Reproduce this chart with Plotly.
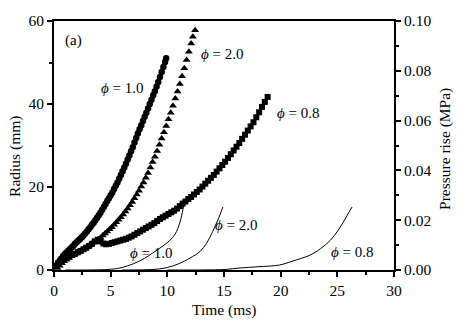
import plotly.graph_objects as go

# ---- data: flame radius (mm) vs time (ms) ----
t_phi10 = [0.2,0.35,0.5,0.65,0.8,0.95,1.1,1.25,1.4,1.55,1.7,1.85,2.0,2.15,2.3,2.45,2.6,2.75,2.9,3.05,
           3.2,3.35,3.5,3.65,3.8,3.95,4.1,4.25,4.4,4.55,4.7,4.85,5.0,5.15,5.3,5.45,5.6,5.75,5.9,6.05,
           6.2,6.35,6.5,6.65,6.8,6.95,7.1,7.25,7.4,7.55,7.7,7.85,8.0,8.15,8.3,8.45,8.6,8.75,8.9,9.05,
           9.2,9.35,9.5,9.65,9.8,9.9]
r_phi10 = [1.0,1.6,2.2,2.8,3.4,3.8,4.2,4.6,5.0,5.4,5.8,6.3,6.7,7.1,7.5,7.9,8.3,8.8,9.3,9.8,
           10.3,10.9,11.4,12.0,12.6,13.2,13.8,14.5,15.2,15.9,16.6,17.3,18.0,18.7,19.5,20.3,21.1,22.0,22.9,23.8,
           24.7,25.6,26.6,27.6,28.6,29.6,30.7,31.8,32.9,33.9,34.9,35.9,36.9,37.9,38.9,40.0,41.0,42.1,43.1,44.2,
           45.3,46.5,47.7,48.9,50.1,51.0]

t_phi20 = [0.3,0.5,0.7,0.9,1.1,1.3,1.5,1.7,1.9,2.1,2.3,2.5,2.7,2.9,3.1,3.3,3.5,3.7,3.9,4.1,
           4.3,4.5,4.7,4.9,5.1,5.3,5.5,5.7,5.9,6.1,6.3,6.5,6.7,6.9,7.1,7.3,7.5,7.7,7.9,8.1,
           8.3,8.5,8.7,8.9,9.1,9.3,9.5,9.7,9.9,10.1,10.3,10.5,10.7,10.9,11.1,11.3,11.5,11.7,11.9,12.1,
           12.25,12.45]
r_phi20 = [0.5,1.0,1.6,2.1,2.5,2.9,3.3,3.6,3.9,4.2,4.5,4.8,5.1,5.5,5.9,6.3,6.6,7.0,7.4,7.8,
           8.3,8.8,9.3,9.8,10.3,10.9,11.5,12.1,12.7,13.4,14.1,14.8,15.6,16.4,17.3,18.2,19.1,20.1,21.1,22.2,
           23.4,24.7,26.0,27.3,28.7,30.2,31.7,33.2,34.7,36.3,37.9,39.6,41.3,43.0,44.8,46.7,48.6,50.6,52.6,54.6,
           56.2,57.8]

t_phi08 = [0.1,0.35,0.6,0.85,1.1,1.35,1.6,1.85,2.1,2.35,2.6,2.85,3.1,3.35,3.6,3.85,4.1,4.35,4.6,4.85,
           5.1,5.35,5.6,5.85,6.1,6.35,6.6,6.85,7.1,7.35,7.6,7.85,8.1,8.35,8.6,8.85,9.1,9.35,9.6,9.85,
           10.1,10.35,10.6,10.85,11.1,11.35,11.6,11.85,12.1,12.35,12.6,12.85,13.1,13.35,13.6,13.85,14.1,14.35,14.6,14.85,
           15.1,15.35,15.6,15.85,16.1,16.35,16.6,16.85,17.1,17.35,17.6,17.85,18.1,18.35,18.6,18.85]
r_phi08 = [1.0,1.6,2.2,2.6,3.0,3.3,3.6,3.9,4.3,4.6,5.0,5.4,5.8,6.3,6.9,7.3,6.9,6.4,6.2,6.3,
           6.5,6.7,6.9,7.1,7.3,7.5,7.8,8.1,8.5,8.9,9.3,9.7,10.1,10.5,10.9,11.3,11.8,12.3,12.7,13.1,
           13.5,13.9,14.3,14.8,15.4,16.0,16.5,17.1,17.6,18.2,18.8,19.4,20.1,20.8,21.5,22.2,22.9,23.7,24.5,25.3,
           26.1,27.0,27.9,28.8,29.7,30.6,31.6,32.6,33.6,34.6,35.6,36.8,38.0,39.3,40.5,41.7]

# ---- data: pressure rise (MPa) vs time (ms) ----
tp_phi10 = [1.0,3.0,5.0,6.0,7.0,8.0,8.7,9.5,10.2,10.7,11.1,11.45]
p_phi10 = [0.0,0.0,0.0003,0.001,0.0025,0.0047,0.0068,0.0093,0.0118,0.0145,0.019,0.026]
tp_phi20 = [6.0,9.0,10.0,11.0,12.0,12.9,13.5,14.0,14.5,14.9]
p_phi20 = [0.0,0.0003,0.001,0.0025,0.0048,0.0075,0.011,0.0155,0.0205,0.0253]
tp_phi08 = [10.0,15.0,16.4,18.0,19.9,21.0,22.6,23.5,24.4,25.0,25.5,26.0,26.3]
p_phi08 = [0.0,0.0002,0.0008,0.0013,0.002,0.0035,0.006,0.0085,0.012,0.0155,0.019,0.023,0.0253]

x_ticks = [0, 5, 10, 15, 20, 25, 30]
y_ticks = [0, 20, 40, 60]
y2_ticks = [0.0, 0.02, 0.04, 0.06, 0.08, 0.10]

FONT = "Liberation Serif"

fig = go.Figure()
fig.add_trace(go.Scatter(x=t_phi10, y=r_phi10, mode="markers",
                         marker=dict(symbol="circle", size=6.5, color="black"), showlegend=False))
fig.add_trace(go.Scatter(x=t_phi20, y=r_phi20, mode="markers",
                         marker=dict(symbol="triangle-up", size=7, color="black"), showlegend=False))
fig.add_trace(go.Scatter(x=t_phi08, y=r_phi08, mode="markers",
                         marker=dict(symbol="square", size=6, color="black"), showlegend=False))
for tt, pp in [(tp_phi10, p_phi10), (tp_phi20, p_phi20), (tp_phi08, p_phi08)]:
    fig.add_trace(go.Scatter(x=tt, y=pp, mode="lines", yaxis="y2",
                             line=dict(color="black", width=1, shape="spline"), showlegend=False))

axis_common = dict(showgrid=False, zeroline=False, showline=True, linecolor="black", linewidth=2,
                   ticks="outside", ticklen=5, tickwidth=1.5, tickcolor="black",
                   tickfont=dict(family=FONT, size=15.5, color="black"))

fig.update_layout(
    width=474, height=332,
    margin=dict(l=54, r=80, t=21, b=62),
    paper_bgcolor="white", plot_bgcolor="white",
    font=dict(family=FONT, size=15, color="black"),
    xaxis=dict(range=[0, 30], tickvals=x_ticks, mirror=True,
               minor=dict(dtick=2.5, ticks="outside", ticklen=3, tickwidth=1.5, tickcolor="black"),
               **axis_common),
    yaxis=dict(range=[0, 60], tickvals=y_ticks,
               minor=dict(dtick=10, ticks="outside", ticklen=3, tickwidth=1.5, tickcolor="black"),
               **axis_common),
    yaxis2=dict(range=[0, 0.1], tickvals=y2_ticks, tickformat=".2f", overlaying="y", side="right",
                minor=dict(dtick=0.01, ticks="outside", ticklen=3, tickwidth=1.5, tickcolor="black"),
                **axis_common),
)

ann = [
    dict(x=1.68, y=55.2, text="(a)"),
    dict(x=6.0, y=43.9, text="<i>ϕ</i> = 1.0"),
    dict(x=14.85, y=52.0, text="<i>ϕ</i> = 2.0"),
    dict(x=21.5, y=37.8, text="<i>ϕ</i> = 0.8"),
    dict(x=8.55, y=4.1, text="<i>ϕ</i> = 1.0"),
    dict(x=16.1, y=10.8, text="<i>ϕ</i> = 2.0"),
    dict(x=26.3, y=4.3, text="<i>ϕ</i> = 0.8"),
]
for a in ann:
    fig.add_annotation(x=a["x"], y=a["y"], xref="x", yref="y", text=a["text"], showarrow=False,
                       font=dict(family=FONT, size=15, color="black"), xanchor="center", yanchor="middle")

title_font = dict(family=FONT, size=15.5, color="black")
fig.add_annotation(x=0.5, y=-0.1606, xref="paper", yref="paper", text="Time (ms)", showarrow=False,
                   font=title_font, xanchor="center", yanchor="middle")
fig.add_annotation(x=-0.1147, y=0.454, xref="paper", yref="paper", text="Radius (mm)", showarrow=False,
                   textangle=-90, font=title_font, xanchor="center", yanchor="middle")
fig.add_annotation(x=1.15, y=0.486, xref="paper", yref="paper", text="Pressure rise (MPa)", showarrow=False,
                   textangle=-90, font=title_font, xanchor="center", yanchor="middle")

fig.write_html("out.html")
